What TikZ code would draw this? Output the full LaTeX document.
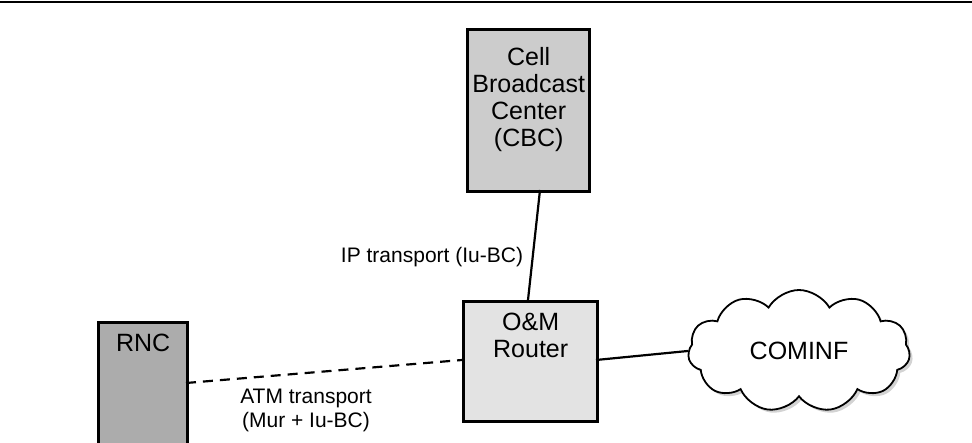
\documentclass[tikz,border=0pt]{standalone}
\usepackage{fontspec}
\setmainfont{Liberation Sans}
\usetikzlibrary{shapes.symbols,shadows}
\begin{document}
\begin{tikzpicture}[x=1pt,y=1pt,
  box/.style={draw,line width=3.4pt,align=center,inner sep=0pt},
  big/.style={font=\fontsize{25}{27}\selectfont},
  lbl/.style={font=\fontsize{21}{24}\selectfont,align=center},
  link/.style={line width=2.2pt}]
\useasboundingbox (0,0) rectangle (972,442);
\draw[line width=1.2pt] (0,440) -- (972,440);
\node[box,fill=gray!40,minimum width=122,minimum height=162,anchor=north west] (cbc) at (466,414) {};
\node[big,align=center,anchor=north] (cbct) at ([yshift=-16pt]cbc.north) {Cell\\Broadcast\\Center\\ (CBC)};
\node[box,fill=gray!65,minimum width=89,minimum height=124,anchor=north west] (rnc) at (97,121) {};
\node[big,anchor=north] (rnct) at ([yshift=-10pt]rnc.north) {RNC};
\node[box,fill=gray!22,minimum width=134,minimum height=120,anchor=north west] (rt) at (462,142) {};
\node[big,align=center,anchor=north] (rtt) at ([yshift=-10pt]rt.north) {O\&M\\Router};
\node[cloud,draw,line width=1.8pt,fill=white,cloud puffs=11,cloud puff arc=120,aspect=1.9,minimum width=222,minimum height=122,drop shadow={opacity=0.35,shadow xshift=3pt,shadow yshift=-3pt},font=\fontsize{25}{27}\selectfont] (cl) at (799,91) {COMINF};
\draw[link] (540,252) coordinate (a) -- (528,142) coordinate (b);
\draw[link,dash pattern=on 10pt off 7pt] (186,59) -- (462,82);
\draw[link] (596,82) -- (cl.west);
\node[lbl] (ip) at (432,185) {IP transport (Iu-BC)};
\node[lbl] (atm) at (306,32) {ATM transport\\(Mur + Iu-BC)};
\end{tikzpicture}
\end{document}
